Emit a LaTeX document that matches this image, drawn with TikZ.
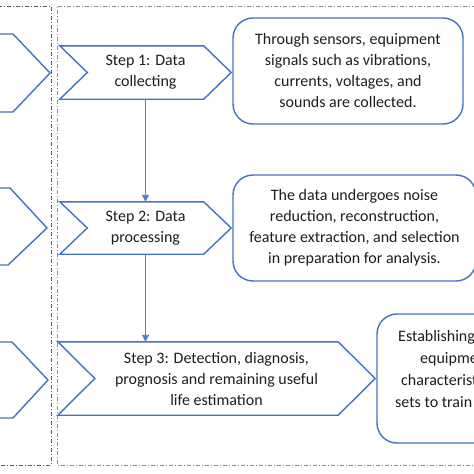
\documentclass[tikz,border=0pt]{standalone}
\usepackage{fontspec}
\setmainfont{Carlito}
\usetikzlibrary{arrows.meta,calc}
\definecolor{lineblue}{HTML}{4472C4}
\definecolor{arrblue}{HTML}{4F7DD6}
\definecolor{txt}{HTML}{1E1E1E}
\definecolor{frame}{HTML}{5A5A5A}
\begin{document}
\begin{tikzpicture}[x=1pt,y=-1pt,
  chevbox/.style={inner sep=0pt, align=center, text=txt, font=\fontsize{16}{21}\selectfont},
  chevline/.style={draw=lineblue, line width=1.4pt, line join=miter},
  infobox/.style={draw=lineblue, line width=1.4pt, rounded corners=20pt, inner sep=0pt,
    align=center, text=txt, font=\fontsize{16}{21}\selectfont},
  conn/.style={draw=arrblue, line width=0.9pt, -{Triangle[width=7pt,length=7pt]}},
  panel/.style={draw=frame, line width=0.9pt, dash pattern=on 4pt off 2pt on 1pt off 2pt},
  boxtext/.style={anchor=base west, inner sep=0pt, text=txt, font=\fontsize{16}{21}\selectfont}
]
\useasboundingbox (0,0) rectangle (474,474);
\clip (0,0) rectangle (474,474);
\fill[white] (0,0) rectangle (474,474);

% panels
\draw[panel] (-20,6) -- (51,6) -- (51,465) -- (-20,465);
\draw[panel, draw=frame!70] (485,6) -- (57,6) -- (57,465) -- (485,465);

% left chevrons (partly visible)
\draw[chevline] (-20,34) -- (13,34) -- (50,73) -- (13,112) -- (-20,112);
\draw[chevline] (-20,188) -- (10,188) -- (47,228) -- (8,265) -- (-20,265);
\draw[chevline] (-20,342) -- (12,342) -- (48,380) -- (13,418) -- (-20,418);

% step chevrons
\node[chevbox, minimum width=171pt, minimum height=53pt] (s1) at (145.5,72.5) {Step 1: Data\\collecting};
\node[chevbox, minimum width=171pt, minimum height=52pt] (s2) at (145.5,228) {Step 2: Data\\processing};
\node[chevbox, minimum width=317pt, minimum height=73pt] (s3) at (216.5,378.5) {Step 3: Detection, diagnosis,\\prognosis and remaining useful\\life estimation};

\foreach \n/\d in {s1/27.5, s2/27.5, s3/37}{
  \draw[chevline] (\n.north west) -- ([xshift=-\d pt]\n.north east) -- (\n.east)
    -- ([xshift=-\d pt]\n.south east) -- (\n.south west) -- ([xshift=\d pt]\n.west) -- cycle;
}

% info boxes
\node[infobox, minimum width=230pt, minimum height=106pt] (b1) at (348,71)
  {Through sensors, equipment\\signals such as vibrations,\\currents, voltages, and\\sounds are collected.};
\node[infobox, minimum width=243pt, minimum height=106pt] (b2) at (354.5,228)
  {The data undergoes noise\\reduction, reconstruction,\\feature extraction, and selection\\in preparation for analysis.};
\node[infobox, minimum width=200pt, minimum height=129pt] (b3) at (477,378.5) {};
\node[boxtext] (t31) at (398,341) {Establishing};
\node[boxtext] (t32) at (420,363) {equipment};
\node[boxtext] (t33) at (401,385) {characteristic};
\node[boxtext] (t34) at (395,407) {sets to train};

% connectors
\draw[conn] (s1.south) -- (s2.north);
\draw[conn] (s2.south) -- (s2.south |- s3.north);
\end{tikzpicture}
\end{document}
